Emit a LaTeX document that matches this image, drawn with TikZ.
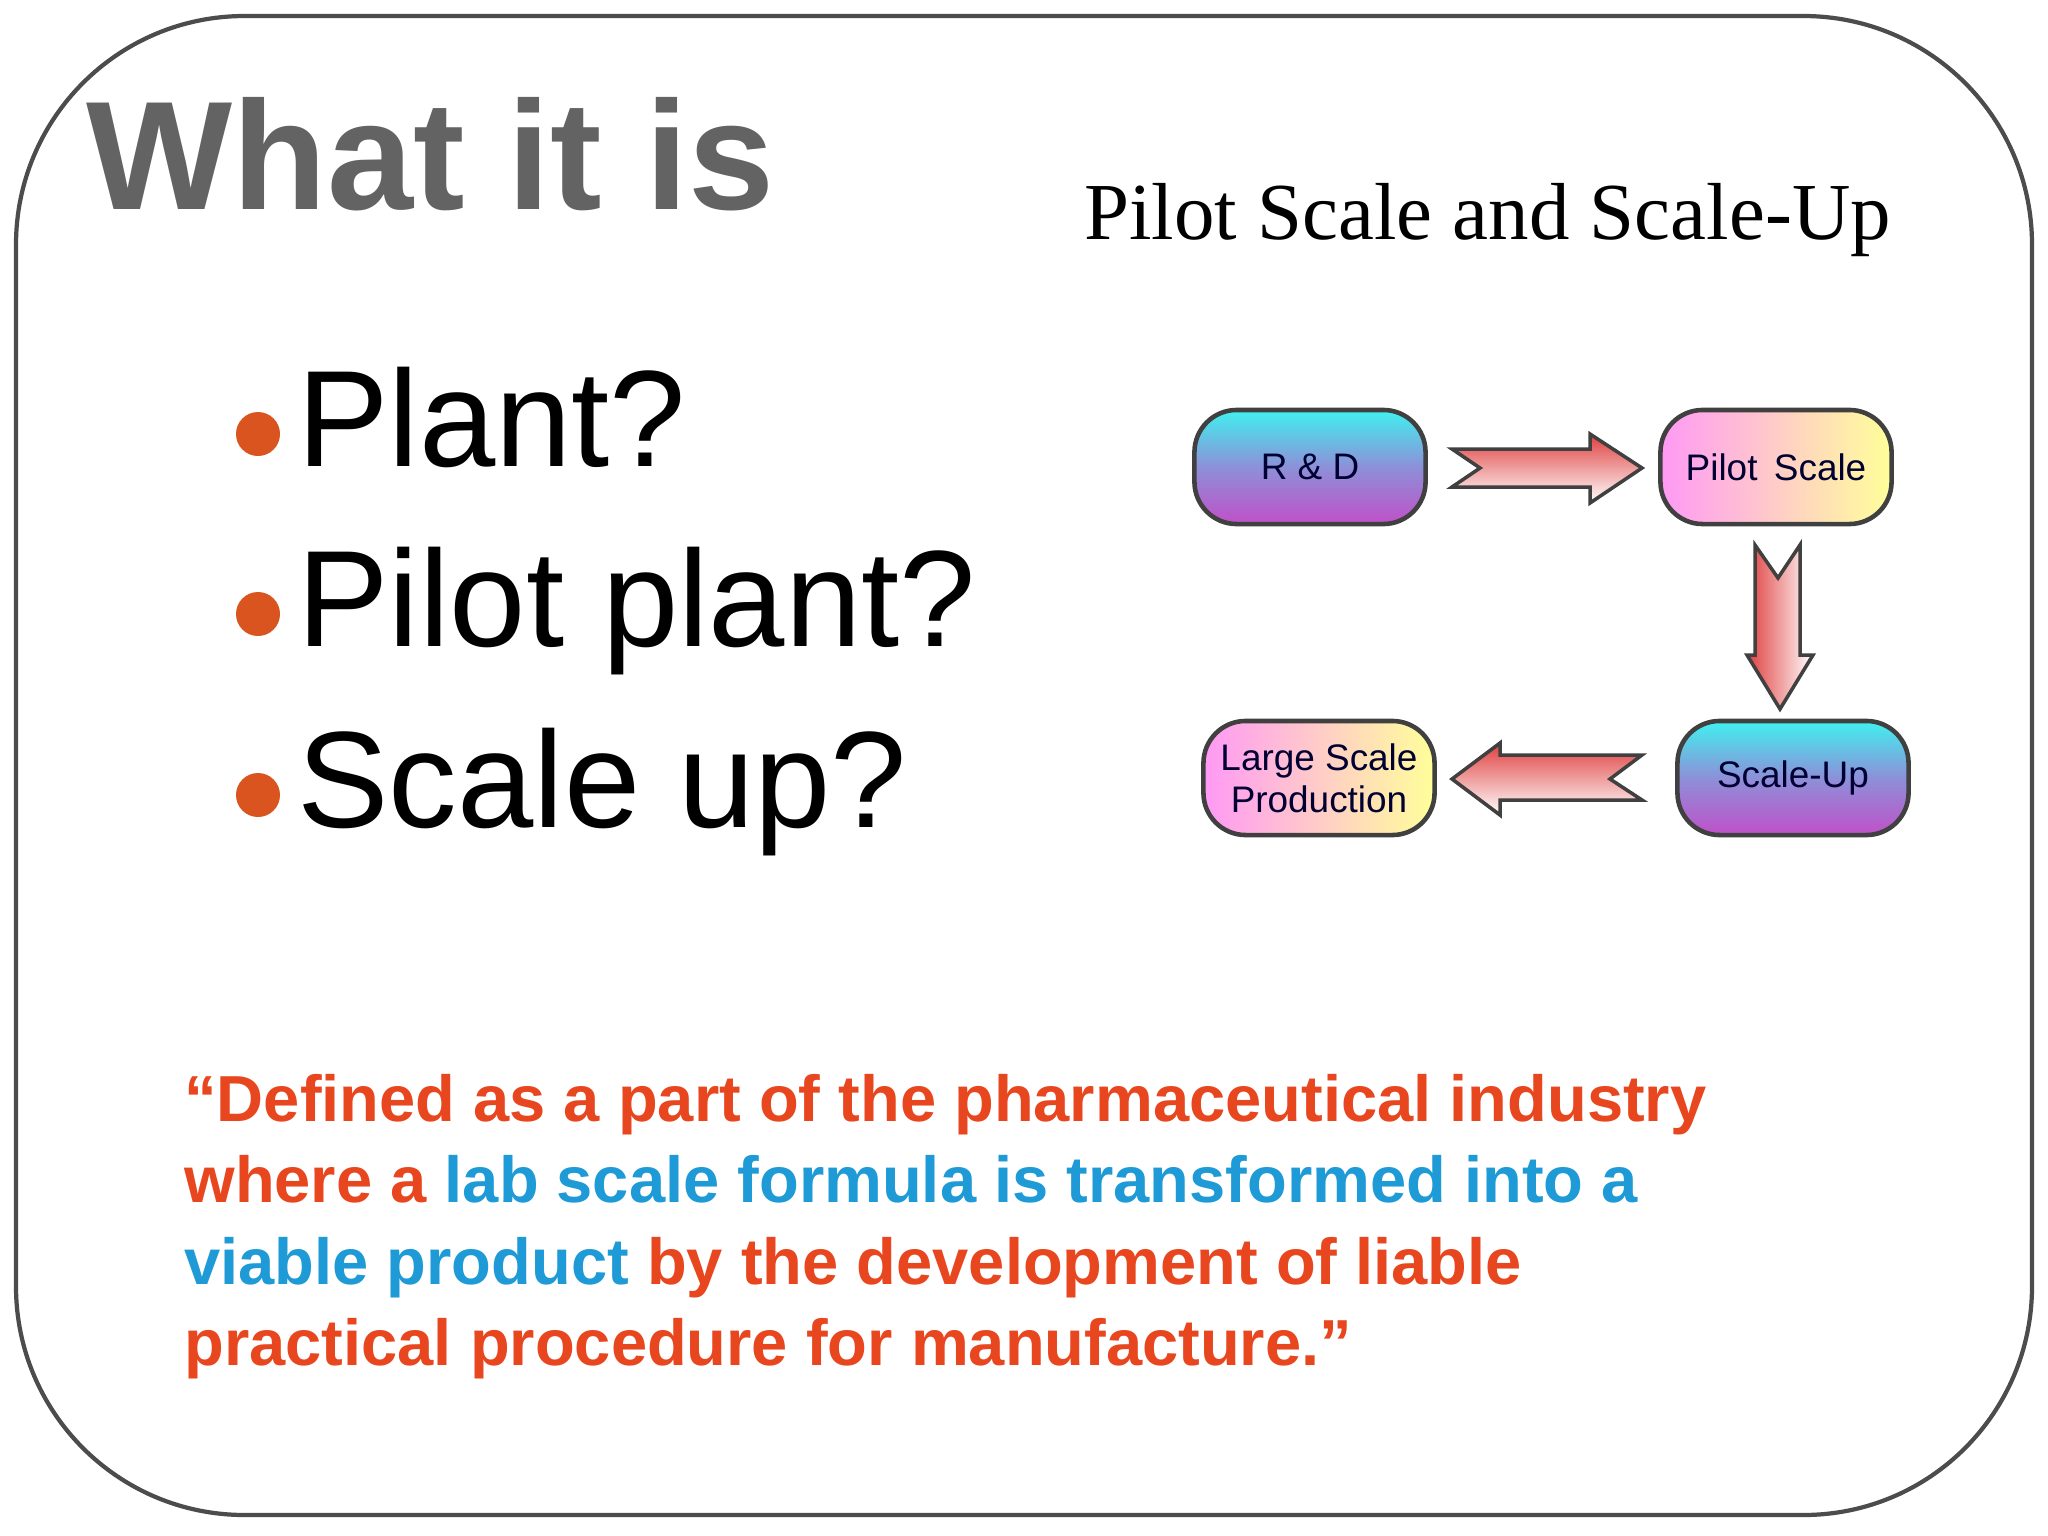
\documentclass[tikz,border=0pt]{standalone}
\usepackage{fontspec}
\setmainfont{Liberation Sans}
\newfontfamily\serifff{Liberation Serif}
\usetikzlibrary{calc}
\definecolor{qred}{HTML}{E8461E}
\definecolor{qblue}{HTML}{1E9AD6}
\definecolor{ttl}{HTML}{636363}
\definecolor{bul}{HTML}{D9541E}
\definecolor{cy}{HTML}{40F0F0}
\definecolor{mg}{HTML}{C050C8}
\definecolor{pk}{HTML}{FF99F5}
\definecolor{yl}{HTML}{FFFF99}
\definecolor{arr}{HTML}{E04040}
\tikzset{
  cbox/.style={draw=black!75, line width=1.3pt, rounded corners=12pt, minimum width=2.31cm, minimum height=1.14cm, align=center, font=\fontsize{10.5}{12}\selectfont, text=black!80!blue},
  cmbox/.style={cbox, top color=cy, bottom color=mg, middle color=mg!60!cy},
  pybox/.style={cbox, left color=pk, right color=yl},
  bigarrow/.style={draw=black!75, line width=1pt, line join=miter},
  bl/.style={anchor=base west, font=\fontsize{39}{40}\selectfont},
  ql/.style={anchor=base west, font=\fontsize{18.5}{20}\selectfont\bfseries}
}
\newcommand{\qr}[1]{\textcolor{qred}{#1}}
\newcommand{\qb}[1]{\textcolor{qblue}{#1}}
\begin{document}
\begin{tikzpicture}[x=0.01cm,y=-0.01cm]
\useasboundingbox (0,0) rectangle (2048,1536);
\fill[white] (0,0) rectangle (2048,1536);
\draw[black!70, line width=1.2pt, rounded corners=65] (16,16) rectangle (2032,1515);
\node[anchor=base west, text=ttl, font=\fontsize{44}{46}\selectfont\bfseries] (title) at (74,209) {What it is};
\node[anchor=base west, font=\serifff\fontsize{23}{25}\selectfont] (sub) at (1072,239) {Pilot Scale and Scale-Up};
% bullets
\foreach \y/\t/\n in {466/Plant?/b1, 646/Pilot plant?/b2, 827/Scale up?/b3}{
  \fill[bul] (258,\y-32) circle (22);
  \node[bl] (\n) at (285,\y) {\t};
}
% boxes
\node[cmbox] (rd) at (1310,467) {R \& D};
\node[pybox] (ps) at (1776,467) {Pilot\, Scale};
\node[cmbox] (su) at (1793,778) {Scale-Up};
\node[pybox] (ls) at (1319,778) {Large Scale\\Production};
% arrows
\draw[bigarrow, top color=arr, bottom color=white]
  (1452,449) -- (1590,449) -- (1590,434) -- (1642,468) -- (1590,503) -- (1590,487) -- (1452,487) -- (1480,468) -- cycle;
\draw[bigarrow, left color=arr, right color=white]
  (1755,545) -- (1778,578) -- (1800,545) -- (1800,655) -- (1813,655) -- (1780,709) -- (1747,655) -- (1755,655) -- cycle;
\draw[bigarrow, top color=arr, bottom color=white]
  (1452,779) -- (1500,743) -- (1500,755) -- (1642,755) -- (1610,779) -- (1642,800) -- (1500,800) -- (1500,815) -- cycle;
% quote
\begin{scope}[every node/.style={ql}]
\node (q1) at (172,1121) {\qr{“Defined as a part of the pharmaceutical industry}};
\node (q2) at (172,1202) {\qr{where a} \qb{lab scale formula is transformed into a}};
\node (q3) at (172,1284) {\qb{viable product} \qr{by the development of liable}};
\node (q4) at (172,1365) {\qr{practical procedure for manufacture.”}};
\end{scope}
\end{tikzpicture}
\end{document}
